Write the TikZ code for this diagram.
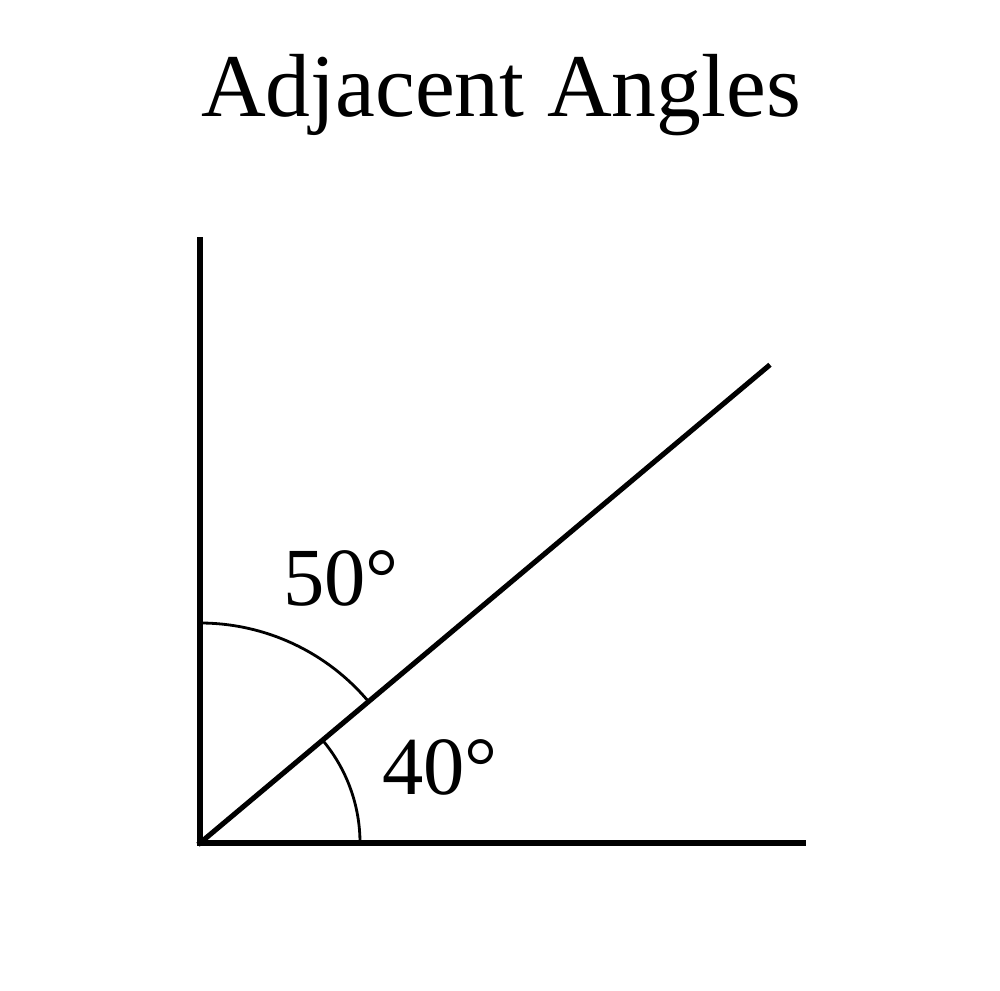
\documentclass[tikz,border=0pt]{standalone}
\usepackage{fontspec}
\setmainfont{Liberation Serif}
\usepackage{tikz}
\usetikzlibrary{positioning,calc}
\tikzset{%
	ray/.style={
		line width=1.45pt,
		line cap=rect
	},
	angle-arc/.style={
		line width=0.8pt
	},
	angle-label/.style={
		anchor=base,
		inner sep=0pt,
		font=\fontsize{23.5}{28}\selectfont
	},
	title/.style={
		anchor=base,
		inner sep=0pt,
		font=\fontsize{25.5}{30}\selectfont
	},
}

\begin{document}
\begin{tikzpicture}
\useasboundingbox (0,0) rectangle (10,9.9);

% points
\coordinate (O) at (2.00,1.47);
\coordinate (top) at (2.00,7.50);
\coordinate (right) at (8.03,1.47);
\coordinate (ray-end) at ($(O)+(40:7.415)$);

% title
\node[title] (heading) at (5.01,8.73) {Adjacent Angles};

% arms
\foreach \p in {top, right, ray-end}
	\draw[ray] (O) -- (\p);

% angle arcs
\foreach \a/\b/\r in {40/90/2.2, 0/40/1.6}
	\draw[angle-arc] (O) ++(\a:\r) arc[start angle=\a, end angle=\b, radius=\r];

% angle labels
\node[angle-label] (label-50) at (3.41,3.85) {50°};
\node[angle-label] (label-40) at (4.40,1.96) {40°};

\end{tikzpicture}
\end{document}
